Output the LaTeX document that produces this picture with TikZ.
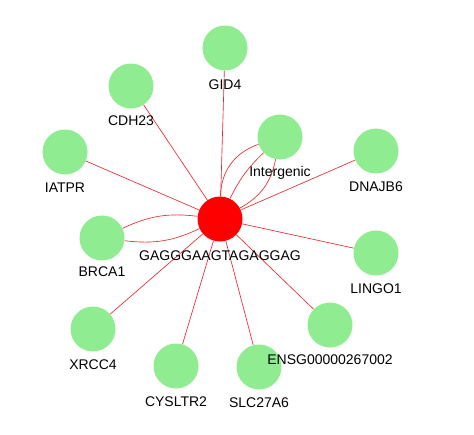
\documentclass[tikz,border=0pt]{standalone}
\usepackage{fontspec}
\setmainfont{Liberation Sans}
\usetikzlibrary{backgrounds}
\definecolor{genegreen}{RGB}{144,236,144}
\definecolor{linkred}{RGB}{232,40,48}

\begin{document}
\begin{tikzpicture}[x=1pt,y=-1pt,
    gene/.style={circle,fill=genegreen,minimum size=45pt,inner sep=0pt},
    hubnode/.style={circle,fill=red,minimum size=45pt,inner sep=0pt},
    every label/.style={font=\fontsize{14}{16}\selectfont,text=black},
    link/.style={linkred,line width=0.65pt}]

    \useasboundingbox (0,0) rectangle (474,434);

    \node[hubnode,label={[label distance=5pt]below:GAGGGAAGTAGAGGAG}] (hub) at (220,219) {};

    \node[gene,label={[label distance=5pt]below:GID4}] (gid4) at (225,48) {};
    \node[gene,label={[label distance=3pt]below:CDH23}] (cdh23) at (131,86) {};
    \node[gene,label={[label distance=5pt]below:IATPR}] (iatpr) at (65,152) {};
    \node[gene,label={[label distance=3pt]below:Intergenic}] (intergenic) at (280,137) {};
    \node[gene,label={[label distance=4pt]below:DNAJB6}] (dnajb6) at (376,151) {};
    \node[gene,label={[label distance=2pt]below:BRCA1}] (brca1) at (102,238) {};
    \node[gene,label={[label distance=4pt]below:LINGO1}] (lingo1) at (376,253) {};
    \node[gene,label={[label distance=4pt]below:XRCC4}] (xrcc4) at (93,329) {};
    \node[gene,label={[label distance=4pt]below:CYSLTR2}] (cysltr2) at (176,366) {};
    \node[gene,label={[label distance=4pt]below:SLC27A6}] (slc27a6) at (259,367) {};
    \node[gene,label={[label distance=3pt]below:ENSG00000267002}] (ensg) at (330,325) {};

    \begin{scope}[on background layer]
        \foreach \g in {gid4,cdh23,iatpr,dnajb6,lingo1,xrcc4,cysltr2,slc27a6,ensg}
            \draw[link] (hub) -- (\g);
        % repeated links
        \draw[link] (hub) to[bend left=35] (intergenic);
        \draw[link] (hub) to[bend left=10] (intergenic);
        \draw[link] (hub) to[bend right=25] (intergenic);
        \draw[link] (hub) to[bend left=16] (brca1);
        \draw[link] (hub) to[bend right=16] (brca1);
    \end{scope}

\end{tikzpicture}
\end{document}
